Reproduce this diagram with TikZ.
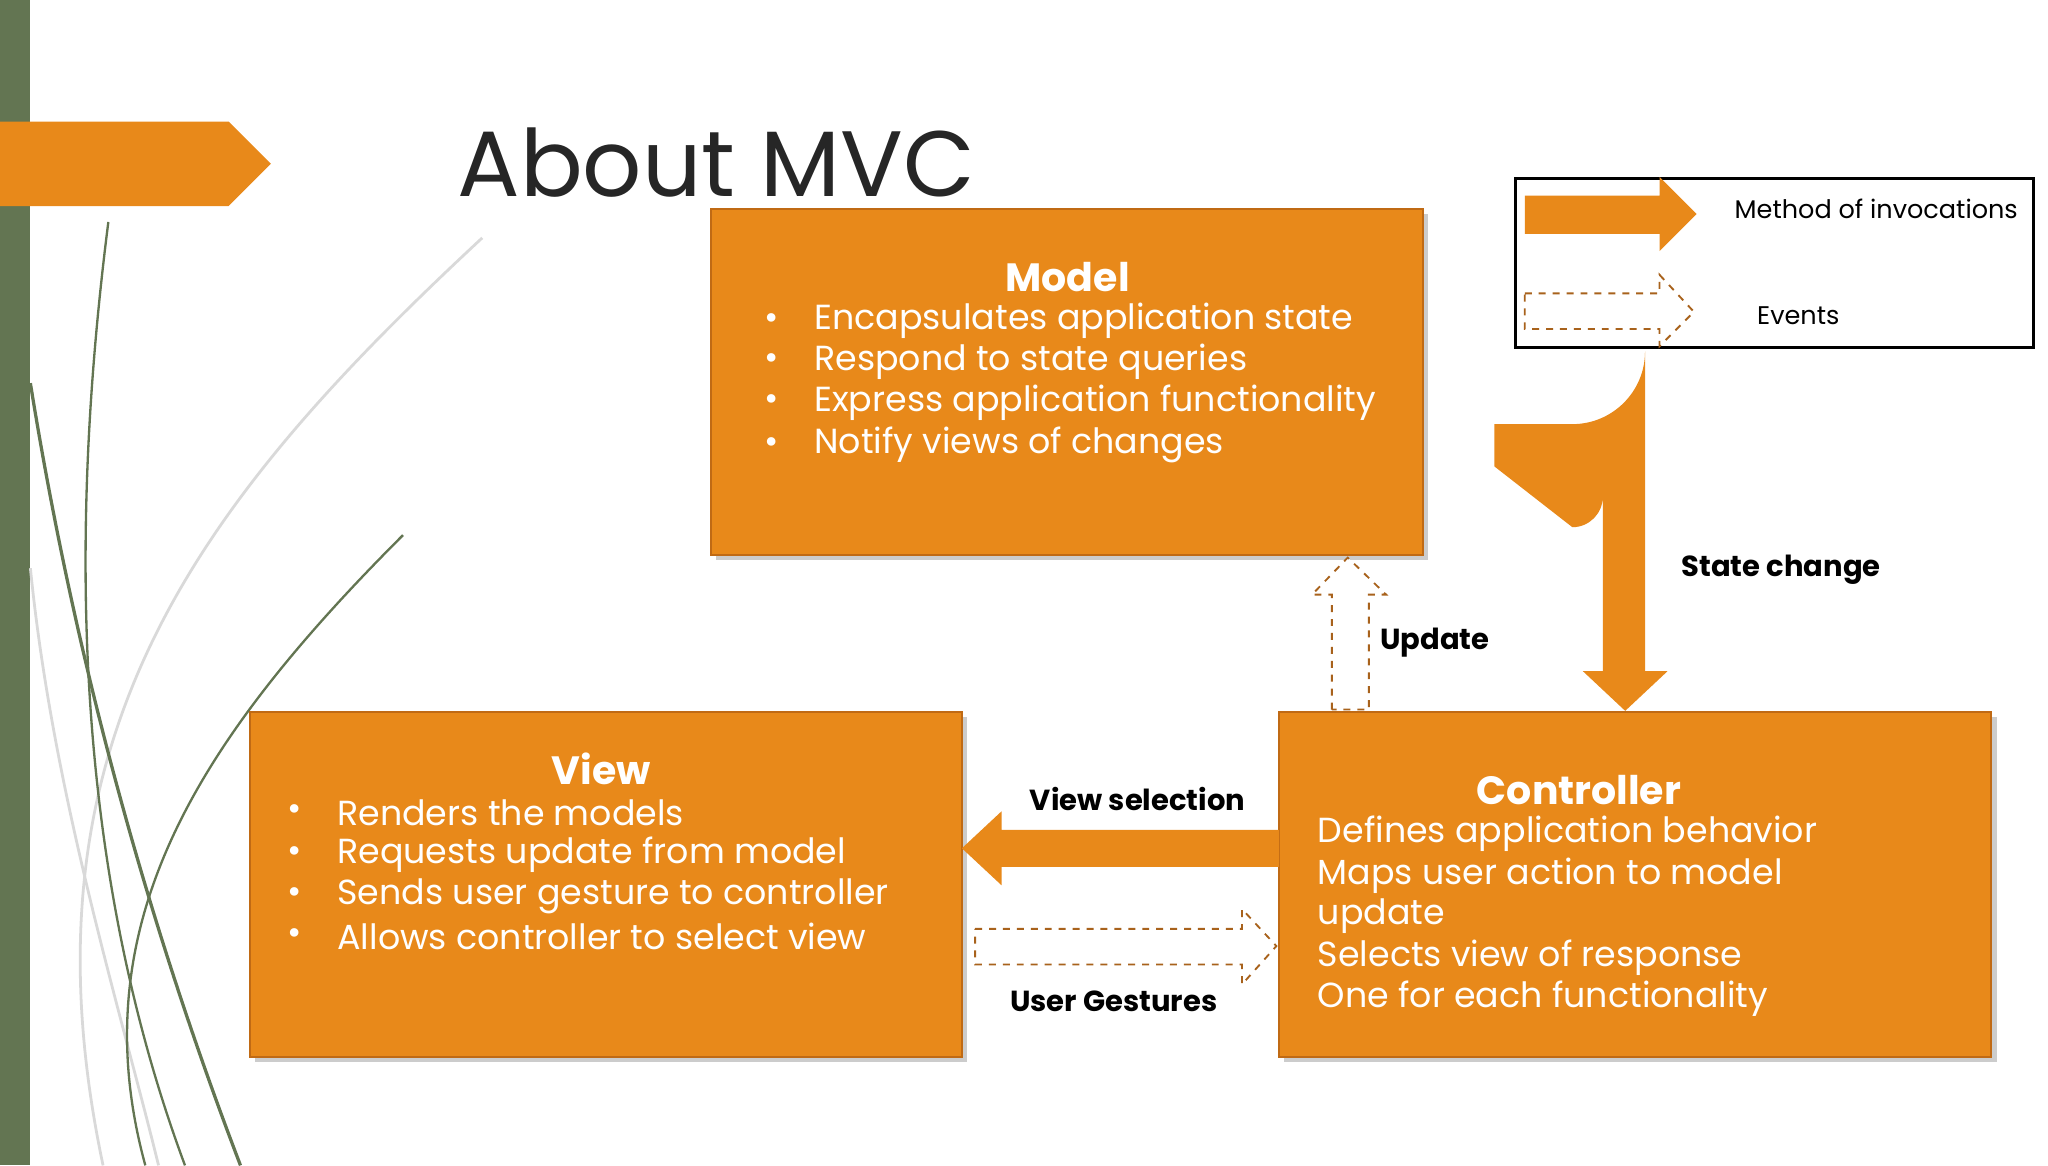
\documentclass[tikz,border=0pt]{standalone}
\usepackage{fontspec}
\setmainfont{Poppins}
\definecolor{orng}{HTML}{E8891A}
\definecolor{orngdk}{HTML}{C06A14}
\definecolor{grn}{HTML}{637552}
\definecolor{dash}{HTML}{A8621C}
\tikzset{
  box/.style={draw=orngdk, line width=1pt, fill=orng},
  shadow/.style={fill=black!20},
  wtxt/.style={text=white, font=\fontsize{15}{18}\selectfont, anchor=west, inner sep=0},
  ttl/.style={text=white, font=\fontsize{17}{20}\selectfont\bfseries, inner sep=0},
  lbl/.style={font=\fontsize{12.5}{15}\selectfont\bfseries, inner sep=0},
  solidarr/.style={fill=orng, draw=none},
  dasharr/.style={draw=dash, dashed, line width=0.8pt, fill=white}
}
\begin{document}
\begin{tikzpicture}[x=0.02cm, y=-0.02cm]
\useasboundingbox (0,0) rectangle (1550,882);
% decoration
\fill[grn] (0,0) rectangle (23,882);
\draw[black!15, line width=1.2pt] (365,180) .. controls (150,380) and (10,560) .. (78,882);
\draw[black!15, line width=1.2pt] (23,430) .. controls (40,600) and (90,760) .. (120,882);
\draw[grn, line width=1pt] (82,168) .. controls (55,380) and (50,640) .. (140,882);
\draw[grn, line width=1.4pt] (23,290) .. controls (60,520) and (120,720) .. (182,882);
\draw[grn, line width=1pt] (305,405) .. controls (150,560) and (60,700) .. (110,882);
\fill[orng] (0,92) -- (173,92) -- (205,124) -- (173,156) -- (0,156) -- cycle;
\node[font=\fontsize{40}{46}\selectfont, text=black!85, anchor=west, inner sep=0] (title) at (346,123) {About MVC};
% boxes
\fill[shadow] (542,162) rectangle (1081,424);
\fill[shadow] (193,543) rectangle (732,804);
\fill[shadow] (972,543) rectangle (1511,804);
\draw[box] (538,158) rectangle (1077,420);
\draw[box] (189,539) rectangle (728,800);
\draw[box] (968,539) rectangle (1507,800);
\node (model) at (808,289) {};
\node[ttl] (mt) at (808,210) {Model};
\foreach \y/\t in {243/Encapsulates application state, 274/Respond to state queries, 305/Express application functionality, 337/Notify views of changes}{
  \node[wtxt] at (578,\y) {•}; \node[wtxt] at (616,\y) {\t};}
\node[ttl] (vt) at (455,582) {View};
\foreach \y/\t in {615/Renders the models, 647/Requests update from model, 678/Sends user gesture to controller, 709/Allows controller to select view}{
  \node[wtxt] at (217,\y) {•}; \node[wtxt] at (255,\y) {\t};}
\node[ttl] (ct) at (1195,598) {Controller};
\foreach \y/\t in {631/Defines application behavior, 663/Maps user action to model, 693/update, 725/Selects view of response, 756/One for each functionality}{
  \node[wtxt] at (997,\y) {\t};}
% legend
\draw[black, line width=1pt] (1147,135) rectangle (1539,263);
\fill[solidarr] (1154,148) -- (1256,148) -- (1256,134) -- (1284,162) -- (1256,190) -- (1256,177) -- (1154,177) -- cycle;
\draw[dasharr] (1154,222) -- (1256,222) -- (1256,208) -- (1282,236) -- (1256,262) -- (1256,249) -- (1154,249) -- cycle;
\node[font=\fontsize{11}{13}\selectfont, inner sep=0] (inv) at (1420,158) {Method of invocations};
\node[font=\fontsize{11}{13}\selectfont, inner sep=0] (ev) at (1361,239) {Events};
% state change bent arrow
\fill[solidarr] (1131,321) -- (1190,321) arc[start angle=90, end angle=0, radius=55] -- (1245,508) -- (1262,508) -- (1230,538) -- (1198,508) -- (1213,508) -- (1213,376) arc[start angle=0, end angle=90, radius=23] -- (1131,353) -- cycle;
\node[lbl] (sc) at (1348,431) {State change};
% update
\draw[dasharr] (1008,537) -- (1008,450) -- (993,450) -- (1020,422) -- (1049,450) -- (1036,450) -- (1036,537) -- cycle;
\node[lbl] (up) at (1086,486) {Update};
% view selection
\fill[solidarr] (968,628) -- (758,628) -- (758,614) -- (728,642) -- (758,670) -- (758,656) -- (968,656) -- cycle;
\node[lbl] (vs) at (861,605) {View selection};
% user gestures
\draw[dasharr] (738,703) -- (940,703) -- (940,688) -- (966,716) -- (940,745) -- (940,730) -- (738,730) -- cycle;
\node[lbl] (ug) at (843,758) {User Gestures};
\end{tikzpicture}
\end{document}
